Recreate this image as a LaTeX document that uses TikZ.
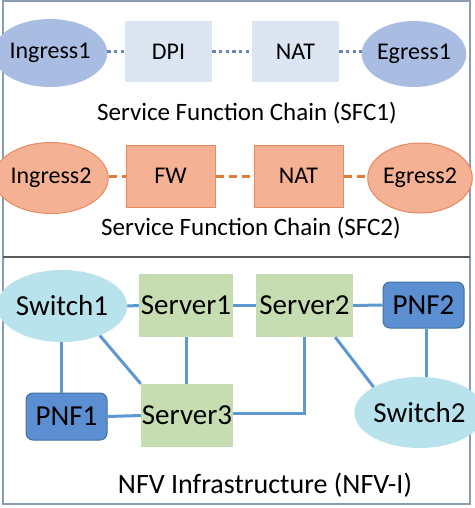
\documentclass[tikz,border=0pt]{standalone}
\usepackage{fontspec}
\setmainfont{Carlito}
\usetikzlibrary{shapes.geometric}
\definecolor{frameC}{HTML}{8C9CB4}
\definecolor{divC}{HTML}{5A5A5A}
\definecolor{ellA}{HTML}{A9BCE2}
\definecolor{recA}{HTML}{DCE6F2}
\definecolor{dotC}{HTML}{6C84B6}
\definecolor{orFill}{HTML}{F5B193}
\definecolor{orDraw}{HTML}{E58A5E}
\definecolor{orLine}{HTML}{E07B39}
\definecolor{swC}{HTML}{B8E2EC}
\definecolor{svC}{HTML}{C6DDB1}
\definecolor{pnfC}{HTML}{5B8FD2}
\definecolor{pnfD}{HTML}{41719C}
\definecolor{linkC}{HTML}{5E98D2}
\tikzset{
  sfcfont/.style={font=\fontsize{24}{27}\selectfont},
  nfvfont/.style={font=\fontsize{29}{33}\selectfont},
  sfcell/.style={ellipse, fill=ellA, inner sep=0pt, sfcfont},
  sfcrect/.style={rectangle, fill=recA, inner sep=0pt, sfcfont},
  orell/.style={ellipse, fill=orFill, draw=orDraw, line width=1pt, inner sep=0pt, sfcfont},
  orrect/.style={rectangle, fill=orFill, draw=orDraw, line width=1pt, inner sep=0pt, sfcfont},
  swnode/.style={ellipse, fill=swC, inner sep=0pt, nfvfont},
  svnode/.style={rectangle, fill=svC, inner sep=0pt, nfvfont},
  pnfnode/.style={rectangle, rounded corners=7pt, fill=pnfC, draw=pnfD, line width=1pt, inner sep=0pt, nfvfont},
  dotlink/.style={draw=dotC, line width=3pt, dash pattern=on 3.3pt off 3.4pt},
  dashlink/.style={draw=orLine, line width=3pt, dash pattern=on 8pt off 5pt},
  link/.style={draw=linkC, line width=3pt},
  caption/.style={inner sep=0pt, text=black},
}
\begin{document}
\begin{tikzpicture}[x=1pt,y=-1pt]
\useasboundingbox (0,0) rectangle (474,508);
\fill[white] (0,0) rectangle (474,508);
% frame
\draw[frameC, line width=2pt] (2.5,1.5) rectangle (469.5,504);
\draw[divC, line width=2pt] (2.5,257) -- (469.5,257);

% SFC1
\node[sfcell, minimum width=86pt, minimum height=68pt] (in1) at (50,53) {Ingress1};
\node[sfcrect, minimum width=87pt, minimum height=61pt] (dpi) at (168.5,51.5) {DPI};
\node[sfcrect, minimum width=87pt, minimum height=61pt] (nat1) at (295.5,51.5) {NAT};
\node[sfcell, minimum width=88pt, minimum height=66pt] (eg1) at (414,54) {Egress1};
\draw[dotlink] (in1.east |- dpi.west) -- (dpi.west);
\draw[dotlink] (dpi.east) -- (nat1.west);
\draw[dotlink] (nat1.east) -- (eg1.west |- nat1.east);
\node[caption, font=\fontsize{25}{28}\selectfont] (cap1) at (247,113) {Service Function Chain (SFC1)};

% SFC2
\node[orell, minimum width=88pt, minimum height=71pt] (in2) at (51,178) {Ingress2};
\node[orrect, minimum width=89pt, minimum height=62pt] (fw) at (170.5,176) {FW};
\node[orrect, minimum width=89pt, minimum height=62pt] (nat2) at (298.5,176) {NAT};
\node[orell, minimum width=90pt, minimum height=70pt] (eg2) at (420,178) {Egress2};
\draw[dashlink] (in2.east |- fw.west) -- (fw.west);
\draw[dashlink] (fw.east) -- (nat2.west);
\draw[dashlink] (nat2.east) -- (eg2.west |- nat2.east);
\node[caption, font=\fontsize{25}{28}\selectfont] (cap2) at (251,228) {Service Function Chain (SFC2)};

% NFV-I
\node[swnode, minimum width=93pt, minimum height=72pt] (sw1) at (62,306) {Switch1};
\node[svnode, minimum width=94pt, minimum height=63pt] (sv1) at (186,305.5) {Server1};
\node[svnode, minimum width=97pt, minimum height=63pt] (sv2) at (304.5,305.5) {Server2};
\node[pnfnode, minimum width=81pt, minimum height=46pt] (pnf2) at (423.5,305) {PNF2};
\node[svnode, minimum width=92pt, minimum height=63pt] (sv3) at (187,415.5) {Server3};
\node[pnfnode, minimum width=81pt, minimum height=47pt] (pnf1) at (66.5,416.5) {PNF1};
\node[swnode, minimum width=95pt, minimum height=71pt] (sw2) at (419.5,412.5) {Switch2};

\draw[link] (sw1.east) -- (sv1.west);
\draw[link] (sv1.east) -- (sv2.west);
\draw[link] (sv2.east) -- (pnf2.west);
\draw[link] ([xshift=-1pt]sw1.south) -- ([xshift=-1pt]sw1.south |- pnf1.north);
\draw[link] (sw1.-38) -- (sv3.north west);
\draw[link] (sv1.south) -- (sv1.south |- sv3.north);
\draw[link] (sv2.south) |- ([yshift=2pt]sv3.east);
\draw[link] ([xshift=-18pt]sv2.south east) -- (sw2.151);
\draw[link] ([xshift=3pt]pnf2.south) -- ([xshift=3pt]pnf2.south |- sw2.north);
\draw[link] (pnf1.east) -- (sv3.west);

\node[caption, font=\fontsize{28}{32}\selectfont] (cap3) at (265,485) {NFV Infrastructure (NFV-I)};
\end{tikzpicture}
\end{document}
